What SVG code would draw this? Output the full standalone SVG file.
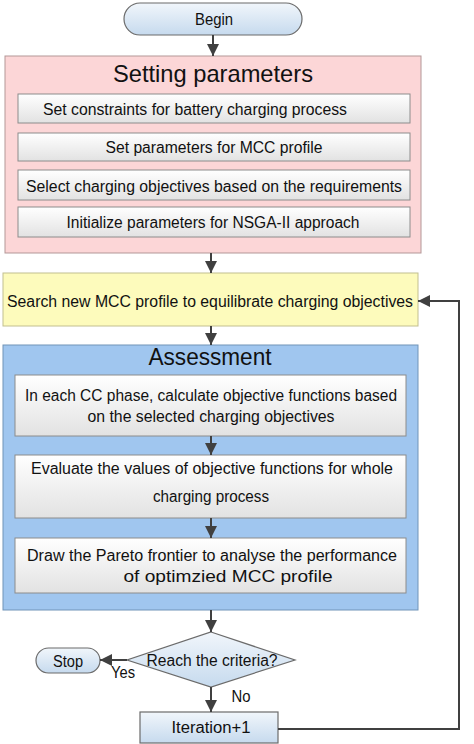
<svg xmlns="http://www.w3.org/2000/svg" width="474" height="744" viewBox="0 0 474 744">
<defs>
<linearGradient id="gPill" x1="0" y1="0" x2="0" y2="1"><stop offset="0" stop-color="#f1f6fb"/><stop offset="1" stop-color="#c6daee"/></linearGradient>
<linearGradient id="gInner" x1="0" y1="0" x2="0" y2="1"><stop offset="0" stop-color="#ffffff"/><stop offset="1" stop-color="#e2e2e2"/></linearGradient>
<marker id="arr" markerUnits="userSpaceOnUse" markerWidth="12" markerHeight="12" viewBox="0 0 12 12" refX="12" refY="6" orient="auto"><path d="M0,0 L12,6 L0,12 Z" fill="#404040"/></marker>
<style>
text{font-family:"Liberation Sans",Arial,sans-serif;fill:#111;text-anchor:middle;}
.t{font-size:16px;}
.h{font-size:24px;}
.pill{fill:url(#gPill);stroke:#6b6b6b;stroke-width:1.2;}
.inner{fill:url(#gInner);stroke:#8c8c8c;stroke-width:1;}
.c{fill:none;stroke:#404040;stroke-width:2;marker-end:url(#arr);}
</style>
</defs>
<g id="begin"><rect class="pill" x="124" y="3" width="178" height="32" rx="16"/><text class="t" x="214" y="25" textLength="38" lengthAdjust="spacingAndGlyphs">Begin</text></g>
<g id="setting">
<rect x="5" y="56" width="416" height="197" fill="#fcd6d7" stroke="#b39797" stroke-width="1"/>
<text class="h" x="213" y="82" textLength="200" lengthAdjust="spacingAndGlyphs">Setting parameters</text>
<rect class="inner" x="18" y="94" width="392" height="29"/><text class="t" x="195" y="115" textLength="304" lengthAdjust="spacingAndGlyphs">Set constraints for battery charging process</text>
<rect class="inner" x="18" y="133" width="392" height="28"/><text class="t" x="214" y="153" textLength="217" lengthAdjust="spacingAndGlyphs">Set parameters for MCC profile</text>
<rect class="inner" x="18" y="170" width="392" height="30"/><text class="t" x="214" y="192" textLength="376" lengthAdjust="spacingAndGlyphs">Select charging objectives based on the requirements</text>
<rect class="inner" x="18" y="207" width="392" height="30"/><text class="t" x="213" y="228" textLength="293" lengthAdjust="spacingAndGlyphs">Initialize parameters for NSGA-II approach</text>
</g>
<g id="search"><rect x="3" y="273" width="415" height="53" fill="#fdfbbc" stroke="#c2bf90" stroke-width="1"/><text class="t" x="210" y="307" textLength="406" lengthAdjust="spacingAndGlyphs">Search new MCC profile to equilibrate charging objectives</text></g>
<g id="assessment">
<rect x="3" y="345" width="415" height="265" fill="#a0c6ef" stroke="#7094b8" stroke-width="1"/>
<text class="h" x="210" y="365" textLength="123" lengthAdjust="spacingAndGlyphs">Assessment</text>
<rect class="inner" x="15" y="375" width="391" height="61"/>
<text class="t" x="211" y="401" textLength="372" lengthAdjust="spacingAndGlyphs">In each CC phase, calculate objective functions based</text>
<text class="t" x="211" y="422" textLength="247" lengthAdjust="spacingAndGlyphs">on the selected charging objectives</text>
<rect class="inner" x="15" y="455" width="391" height="63"/>
<text class="t" x="212" y="474" textLength="362" lengthAdjust="spacingAndGlyphs">Evaluate the values of objective functions for whole</text>
<text class="t" x="211" y="502" textLength="116" lengthAdjust="spacingAndGlyphs">charging process</text>
<rect class="inner" x="15" y="538" width="391" height="55"/>
<text class="t" x="212" y="561" textLength="370" lengthAdjust="spacingAndGlyphs">Draw the Pareto frontier to analyse the performance</text>
<text class="t" x="228" y="582" textLength="209" lengthAdjust="spacingAndGlyphs">of optimzied MCC profile</text>
</g>
<g id="decision"><polygon class="pill" points="211,632 295,660 211,687 127,660"/><text class="t" x="212" y="666" textLength="131" lengthAdjust="spacingAndGlyphs">Reach the criteria?</text></g>
<g id="stop"><rect class="pill" x="36" y="648" width="64" height="25" rx="12.5"/><text class="t" x="68" y="667" textLength="30" lengthAdjust="spacingAndGlyphs">Stop</text></g>
<g id="iteration"><rect class="pill" x="140" y="712" width="138" height="31"/><text class="t" x="211" y="733" textLength="79" lengthAdjust="spacingAndGlyphs">Iteration+1</text></g>
<g id="connectors">
<line class="c" x1="213" y1="35" x2="213" y2="56"/>
<line class="c" x1="211" y1="253" x2="211" y2="273"/>
<line class="c" x1="211" y1="326" x2="211" y2="345"/>
<line class="c" x1="211" y1="436" x2="211" y2="455"/>
<line class="c" x1="211" y1="518" x2="211" y2="538"/>
<line class="c" x1="211" y1="610" x2="211" y2="632"/>
<line class="c" x1="127" y1="660" x2="100" y2="660"/>
<line class="c" x1="211" y1="687" x2="211" y2="712"/>
<polyline class="c" points="278,729 459,729 459,301 418,301"/>
<text class="t" x="123" y="678" textLength="24" lengthAdjust="spacingAndGlyphs">Yes</text>
<text class="t" x="241" y="702" textLength="19" lengthAdjust="spacingAndGlyphs">No</text>
</g>
</svg>
